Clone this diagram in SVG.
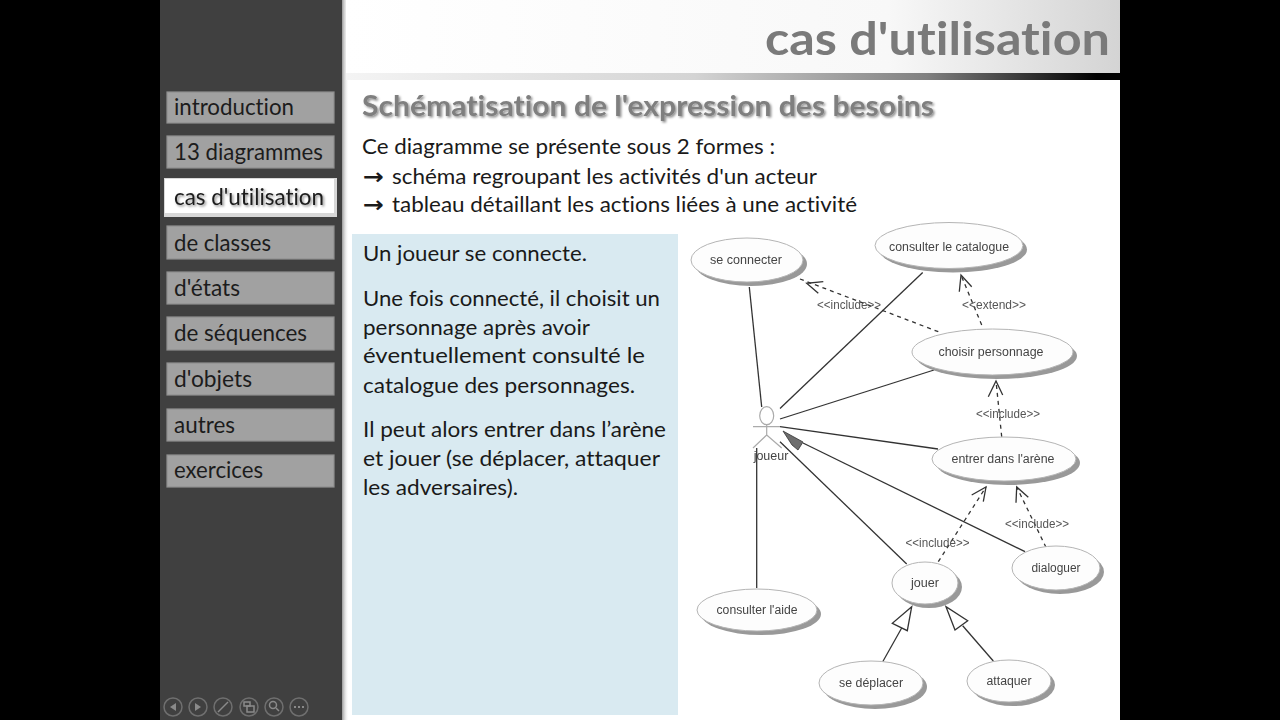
<svg xmlns="http://www.w3.org/2000/svg" width="1280" height="720" viewBox="0 0 1280 720">
<style>
text{font-variant-ligatures:none}
.menu{fill:#a1a1a1;stroke:#909090;stroke-width:1.2}
.mt{font-family:"Lato","Open Sans",sans-serif;font-size:22.5px;fill:#1c1c1c}
.body{font-family:"Lato","Open Sans",sans-serif;font-size:22px;fill:#1a1a1a}
.arr{font-family:"DejaVu Sans",sans-serif;font-size:22px;font-weight:700;fill:#1a1a1a}
.uc{font-family:"Liberation Sans",Arial,sans-serif;font-size:12.500px;fill:#444;text-anchor:middle}
.st{font-family:"Liberation Sans",Arial,sans-serif;font-size:12px;fill:#555;text-anchor:middle}
.el{fill:#fdfdfd;stroke:#b4b4b4;stroke-width:1}
.sh{fill:#999}
.so{fill:none;stroke:#333;stroke-width:1.3}
.da{fill:none;stroke:#333;stroke-width:1.3;stroke-dasharray:4 4}
.he{fill:none;stroke:#333;stroke-width:1.3}
.tri{fill:#fff;stroke:#333;stroke-width:1.3}
.act{fill:none;stroke:#ababab;stroke-width:1.2}
.ic{fill:none;stroke:#6f6f6f;stroke-width:1.5}
.ig{fill:#8a8a8a;stroke:none}
.ih{fill:none;stroke:#8a8a8a;stroke-width:1.5}
</style>
<defs>
<linearGradient id="hd" x1="0" x2="1" y1="0" y2="0"><stop offset="0" stop-color="#fff"/><stop offset="0.7" stop-color="#f8f8f8"/><stop offset="1" stop-color="#d4d4d4"/></linearGradient>
<linearGradient id="bar" x1="0" x2="1" y1="0" y2="0"><stop offset="0" stop-color="#f4f4f4"/><stop offset="0.45" stop-color="#d4d4d4"/><stop offset="0.75" stop-color="#808080"/><stop offset="0.97" stop-color="#000"/></linearGradient>
<linearGradient id="sd" x1="0" x2="1" y1="0" y2="0"><stop offset="0" stop-color="#999"/><stop offset="1" stop-color="#fff" stop-opacity="0"/></linearGradient>
<filter id="ts" x="-5%" y="-20%" width="110%" height="150%"><feDropShadow dx="1.5" dy="1.5" stdDeviation="1" flood-color="#000" flood-opacity="0.45"/></filter>
<filter id="soft" x="-5%" y="-5%" width="110%" height="110%"><feGaussianBlur stdDeviation="0.35"/></filter>
</defs>
<rect width="1280" height="720" fill="#000"/>
<rect x="160" width="960" height="720" fill="#fff"/>
<rect x="160" width="182" height="720" fill="#404040"/>
<rect x="342" width="7" height="720" fill="url(#sd)"/>
<rect x="346" width="774" height="73" fill="url(#hd)"/>
<rect x="346" y="73" width="774" height="7" fill="url(#bar)"/>
<text id="title" x="765" y="55" font-family="Lato,'Open Sans',sans-serif" font-size="46" font-weight="700" fill="#7a7a7a" textLength="345" lengthAdjust="spacingAndGlyphs">cas d'utilisation</text>
<text id="subtitle" x="362" y="116" font-family="Lato,'Open Sans',sans-serif" font-size="29" font-weight="700" fill="#7f7f7f" filter="url(#ts)" textLength="572" lengthAdjust="spacingAndGlyphs">Schématisation de l'expression des besoins</text>
<g id="intro">
<text class="body" x="362" y="154" textLength="413" lengthAdjust="spacingAndGlyphs">Ce diagramme se présente sous 2 formes :</text>
<text class="arr" x="363" y="184" textLength="21" lengthAdjust="spacingAndGlyphs">→</text>
<text class="body" x="392" y="184" textLength="425" lengthAdjust="spacingAndGlyphs">schéma regroupant les activités d'un acteur</text>
<text class="arr" x="363" y="212" textLength="21" lengthAdjust="spacingAndGlyphs">→</text>
<text class="body" x="392" y="212" textLength="465" lengthAdjust="spacingAndGlyphs">tableau détaillant les actions liées à une activité</text>
</g>
<g id="menu">
<g id="m-introduction"><rect class="menu" x="167" y="92" width="167" height="31"/><text class="mt" x="174" y="115" textLength="120" lengthAdjust="spacingAndGlyphs">introduction</text></g>
<g id="m-13"><rect class="menu" x="167" y="136" width="167" height="32"/><text class="mt" x="174" y="160" textLength="149" lengthAdjust="spacingAndGlyphs">13 diagrammes</text></g>
<g id="m-cas"><rect x="164" y="178" width="173" height="39" fill="#d8d8d8"/><rect x="165" y="179" width="169" height="34" fill="#fff"/><text x="174" y="205" class="mt" filter="url(#ts)" textLength="150" lengthAdjust="spacingAndGlyphs">cas d'utilisation</text></g>
<g id="m-classes"><rect class="menu" x="167" y="226" width="167" height="33"/><text class="mt" x="174" y="251" textLength="97" lengthAdjust="spacingAndGlyphs">de classes</text></g>
<g id="m-etats"><rect class="menu" x="167" y="272" width="167" height="32"/><text class="mt" x="174" y="296" textLength="66" lengthAdjust="spacingAndGlyphs">d'états</text></g>
<g id="m-sequences"><rect class="menu" x="167" y="317" width="167" height="33"/><text class="mt" x="174" y="341" textLength="133" lengthAdjust="spacingAndGlyphs">de séquences</text></g>
<g id="m-objets"><rect class="menu" x="167" y="363" width="167" height="32"/><text class="mt" x="174" y="387" textLength="78" lengthAdjust="spacingAndGlyphs">d'objets</text></g>
<g id="m-autres"><rect class="menu" x="167" y="409" width="167" height="32"/><text class="mt" x="174" y="433" textLength="61" lengthAdjust="spacingAndGlyphs">autres</text></g>
<g id="m-exercices"><rect class="menu" x="167" y="455" width="167" height="32"/><text class="mt" x="174" y="478" textLength="89" lengthAdjust="spacingAndGlyphs">exercices</text></g>
</g>
<g id="controls">
<circle class="ic" cx="173" cy="707" r="9"/><path class="ig" d="M176 703v8l-6-4z"/>
<circle class="ic" cx="198" cy="707" r="9"/><path class="ig" d="M195 703v8l6-4z"/>
<circle class="ic" cx="223" cy="707" r="9"/><path class="ih" d="M218 712l10-10" stroke-width="2"/>
<circle class="ic" cx="249" cy="707" r="9"/><rect class="ih" x="244" y="702" width="6" height="4"/><rect class="ih" x="247" y="706" width="7" height="6"/>
<circle class="ic" cx="274" cy="707" r="9"/><circle class="ih" cx="273" cy="705" r="3.500"/><path class="ih" d="M276 708l3 3"/>
<circle class="ic" cx="299" cy="707" r="9"/><path class="ig" d="M294 706h2v2h-2zM298 706h2v2h-2zM302 706h2v2h-2z"/>
</g>
<g id="panel">
<rect x="352" y="234" width="326" height="481" fill="#d9eaf1"/>
<text class="body" x="363" y="261" textLength="224" lengthAdjust="spacingAndGlyphs">Un joueur se connecte.</text>
<text class="body" x="363" y="306" textLength="297" lengthAdjust="spacingAndGlyphs">Une fois connecté, il choisit un</text>
<text class="body" x="363" y="335" textLength="227" lengthAdjust="spacingAndGlyphs">personnage après avoir</text>
<text class="body" x="363" y="363" textLength="282" lengthAdjust="spacingAndGlyphs">éventuellement consulté le</text>
<text class="body" x="363" y="393" textLength="272" lengthAdjust="spacingAndGlyphs">catalogue des personnages.</text>
<text class="body" x="363" y="437" textLength="303" lengthAdjust="spacingAndGlyphs">Il peut alors entrer dans l’arène</text>
<text class="body" x="363" y="466" textLength="297" lengthAdjust="spacingAndGlyphs">et jouer (se déplacer, attaquer</text>
<text class="body" x="363" y="495" textLength="155" lengthAdjust="spacingAndGlyphs">les adversaires).</text>
</g>
<g id="connectors" filter="url(#soft)">
<path class="so" d="M749.300 287L761.700 407"/>
<path class="so" d="M922.700 272.500L780 408.500"/>
<path class="so" d="M934 370L780 419"/>
<path class="so" d="M938 449L780 426.700"/>
<path class="so" d="M1025 551.700L803 443"/>
<path class="so" d="M906.700 564L780 441.700"/>
<path class="so" d="M756.700 448V588" stroke-width="1.600"/>
<path class="da" d="M938.300 331.700L800 279"/>
<path class="he" d="M823.300 281.700L806.700 283.300L818.300 293.300"/>
<path class="da" d="M981.700 325L961 275"/>
<path class="he" d="M959.300 291.700L961 275L971.700 286.700"/>
<path class="da" d="M1001.700 436.700L996 381"/>
<path class="he" d="M988.300 396.700L996 381L1002.700 395"/>
<path class="da" d="M938.300 561.700L986 487"/>
<path class="he" d="M971.700 495L986 487L983.300 501.700"/>
<path class="da" d="M1046 547.300L1016.700 487"/>
<path class="he" d="M1016 502.700L1016.700 487L1028.300 497.300"/>
<path class="so" d="M882.700 661.700L901.700 628"/>
<path class="tri" d="M911.700 606.700L892.300 623.300L907.300 630.700Z"/>
<path class="so" d="M993.300 661L962.700 625.700"/>
<path class="tri" d="M946 606.700L955 630L967.700 620.700Z"/>
<path d="M783 431L803 442L798 450L792 445Z" fill="#6e6e6e" stroke="#333" stroke-width="0.800"/>
</g>
<g id="labels" filter="url(#soft)">
<text class="st" x="849" y="308.500" textLength="64" lengthAdjust="spacingAndGlyphs">&lt;&lt;include&gt;&gt;</text>
<text class="st" x="994" y="308.500" textLength="64" lengthAdjust="spacingAndGlyphs">&lt;&lt;extend&gt;&gt;</text>
<text class="st" x="1008" y="418" textLength="64" lengthAdjust="spacingAndGlyphs">&lt;&lt;include&gt;&gt;</text>
<text class="st" x="937.500" y="546.500" textLength="64" lengthAdjust="spacingAndGlyphs">&lt;&lt;include&gt;&gt;</text>
<text class="st" x="1037" y="528" textLength="64" lengthAdjust="spacingAndGlyphs">&lt;&lt;include&gt;&gt;</text>
</g>
<g id="actor" filter="url(#soft)">
<ellipse class="act" cx="766.700" cy="415.700" rx="7" ry="9"/>
<path class="act" d="M753 426.700H780M766.700 424.700V435M766.700 435L753 448M766.700 435L781.700 448"/>
<text class="uc" x="771" y="460">joueur</text>
</g>
<g id="uc-connecter" filter="url(#soft)"><ellipse class="sh" cx="751" cy="264" rx="56" ry="22"/><ellipse class="el" cx="747" cy="260" rx="56" ry="22"/><text class="uc" x="746" y="264" textLength="72" lengthAdjust="spacingAndGlyphs">se connecter</text></g>
<g id="uc-catalogue" filter="url(#soft)"><ellipse class="sh" cx="953" cy="249.500" rx="74" ry="23"/><ellipse class="el" cx="949" cy="245.500" rx="74" ry="23"/><text class="uc" x="949" y="251" textLength="120" lengthAdjust="spacingAndGlyphs">consulter le catalogue</text></g>
<g id="uc-personnage" filter="url(#soft)"><ellipse class="sh" cx="996.500" cy="356" rx="80.500" ry="23"/><ellipse class="el" cx="992.500" cy="352" rx="80.500" ry="23"/><text class="uc" x="991" y="355.500" textLength="105" lengthAdjust="spacingAndGlyphs">choisir personnage</text></g>
<g id="uc-arene" filter="url(#soft)"><ellipse class="sh" cx="1008" cy="463" rx="72" ry="22"/><ellipse class="el" cx="1004" cy="459" rx="72" ry="22"/><text class="uc" x="1003" y="462.500" textLength="103" lengthAdjust="spacingAndGlyphs">entrer dans l'arène</text></g>
<g id="uc-jouer" filter="url(#soft)"><ellipse class="sh" cx="929" cy="587" rx="33" ry="21"/><ellipse class="el" cx="925" cy="583" rx="33" ry="21"/><text class="uc" x="925" y="586.500" textLength="28" lengthAdjust="spacingAndGlyphs">jouer</text></g>
<g id="uc-dialoguer" filter="url(#soft)"><ellipse class="sh" cx="1060" cy="572" rx="44" ry="22"/><ellipse class="el" cx="1056" cy="568" rx="44" ry="22"/><text class="uc" x="1056" y="571.500" textLength="49" lengthAdjust="spacingAndGlyphs">dialoguer</text></g>
<g id="uc-aide" filter="url(#soft)"><ellipse class="sh" cx="761" cy="614" rx="60" ry="21"/><ellipse class="el" cx="757" cy="610" rx="60" ry="21"/><text class="uc" x="757" y="614" textLength="81" lengthAdjust="spacingAndGlyphs">consulter l'aide</text></g>
<g id="uc-deplacer" filter="url(#soft)"><ellipse class="sh" cx="875" cy="687" rx="52" ry="22"/><ellipse class="el" cx="871" cy="683" rx="52" ry="22"/><text class="uc" x="871" y="687" textLength="64" lengthAdjust="spacingAndGlyphs">se déplacer</text></g>
<g id="uc-attaquer" filter="url(#soft)"><ellipse class="sh" cx="1013" cy="685" rx="42" ry="21"/><ellipse class="el" cx="1009" cy="681" rx="42" ry="21"/><text class="uc" x="1009" y="685" textLength="45" lengthAdjust="spacingAndGlyphs">attaquer</text></g>
</svg>
